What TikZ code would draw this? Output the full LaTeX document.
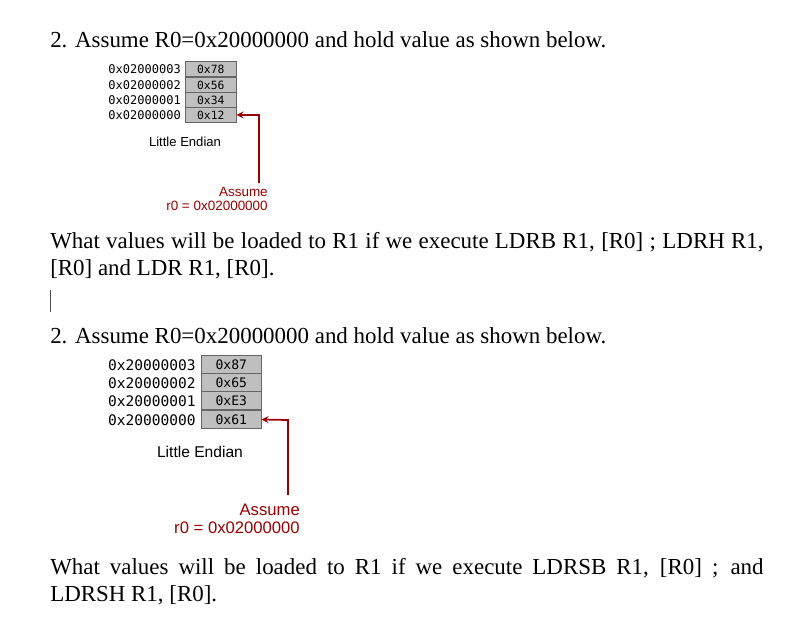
\documentclass[tikz,border=0pt]{standalone}
\usepackage{fontspec}
\setmainfont{Liberation Serif}
\setsansfont{Liberation Sans}
\setmonofont{DejaVu Sans Mono}
\begin{document}
\begin{tikzpicture}[x=0.75pt,y=-0.75pt,
  body/.style={anchor=north west,inner sep=0,font=\fontsize{17.2}{20.25}\selectfont,text width=535pt,align=justify},
  cell/.style={draw=black!60,fill=black!25,inner sep=0,font=\ttfamily\fontsize{#1}{#1}\selectfont},
  addr/.style={anchor=east,inner sep=0,font=\ttfamily\fontsize{#1}{#1}\selectfont},
  cap/.style={inner sep=0,font=\sffamily\fontsize{#1}{#1}\selectfont},
  red/.style={inner sep=0,text=red!60!black,font=\sffamily\fontsize{#1}{#1}\selectfont,align=right},
  arr/.style={draw=red!60!black,line width=1.3pt,->,>=stealth}]
\useasboundingbox (0,0) rectangle (796,637);
\fill[white] (0,0) rectangle (796,637);
% texts
\node[anchor=west,inner sep=0,font=\fontsize{17.2}{20}\selectfont] (t1) at (50,40) {2. Assume R0=0x20000000 and hold value as shown below.};
\node[body] (p1) at (50,232) {What values will be loaded to R1 if we execute LDRB R1, [R0] ; LDRH R1, [R0] and LDR R1, [R0].};
\draw[black!70] (50,290) -- (50,312);
\node[anchor=west,inner sep=0,font=\fontsize{17.2}{20}\selectfont] (t2) at (50,336) {2. Assume R0=0x20000000 and hold value as shown below.};
\node[body] (p2) at (50,558) {What values will be loaded to R1 if we execute LDRSB R1, [R0] ; and\linebreak LDRSH R1, [R0].};
% diagram 1
\foreach \v/\a/\y [count=\i] in {78/03/61,56/02/77,34/01/92,12/00/107}{
  \node[cell=8.5,minimum width=38.25pt,minimum height=11.5pt,anchor=north west] (a\i) at (185,\y) {0x\v};
  \node[addr=9] (b\i) at (181,\y+8) {0x020000\a};
}
\node[cap=9.8] (le1) at (185,142) {Little Endian};
\node[red=10.1] (as1) at (217,199) {\hfill Assume\\[1pt]r0 = 0x02000000};
\coordinate (c1) at (259,183);
\draw[arr] (c1) -- (259,115) -- (a4.east);
% diagram 2
\foreach \v/\a/\y [count=\i] in {87/03/355,65/02/373,E3/01/391,61/00/410}{
  \node[cell=9.8,minimum width=45pt,minimum height=13.8pt,anchor=north west] (d\i) at (201,\y) {0x\v};
  \node[addr=10.9] (e\i) at (196,\y+10) {0x200000\a};
}
\node[cap=11.7] (le2) at (200,452) {Little Endian};
\node[red=12.5] (as2) at (237,519) {\hfill Assume\\[1pt]r0 = 0x02000000};
\coordinate (c2) at (288,495);
\draw[arr] (c2) -- (288,420) -- (d4.east);
\end{tikzpicture}
\end{document}
